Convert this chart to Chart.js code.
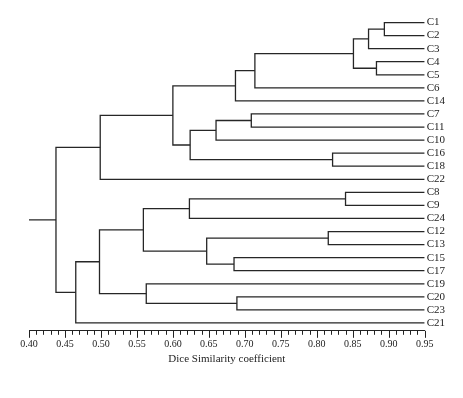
<!DOCTYPE html>
<html>
<head>
<meta charset="utf-8">
<script src="https://cdn.jsdelivr.net/npm/chart.js@4/dist/chart.umd.min.js"></script>
<style>
  html, body { margin: 0; padding: 0; background: #fff; }
  #wrap { width: 463px; height: 398px; }
</style>
</head>
<body>
<div id="wrap"><canvas id="dendro"></canvas></div>
<script>
// leaf order, top to bottom
var leaves = ['C1','C2','C3','C4','C5','C6','C14','C7','C11','C10','C16','C18','C22',
              'C8','C9','C24','C12','C13','C15','C17','C19','C20','C23','C21'];

// merges: ids < 24 are leaves, 24+i is merge i
var mergeA      = [0, 24, 3, 25, 27, 28, 7, 30, 10, 31, 29, 34, 13, 36, 16, 18, 38, 37, 21, 20, 41, 44, 35];
var mergeB      = [1, 2, 4, 26, 5, 6, 8, 9, 11, 32, 33, 12, 14, 15, 17, 19, 39, 40, 22, 42, 43, 23, 45];
var mergeHeight = [0.894, 0.872, 0.883, 0.851, 0.714, 0.687, 0.709, 0.660, 0.822, 0.624, 0.600, 0.499,
                   0.840, 0.623, 0.816, 0.685, 0.647, 0.559, 0.689, 0.563, 0.498, 0.465, 0.4375];

var leafHeight = 0.95;
var axisMin = 0.40;

var nodeY = leaves.map(function (_, i) { return i; });
var nodeH = leaves.map(function () { return leafHeight; });
var datasets = [];

for (var i = 0; i < mergeHeight.length; i++) {
    var a = mergeA[i], b = mergeB[i], h = mergeHeight[i];
    datasets.push({
        data: [
            {x: nodeH[a], y: nodeY[a]},
            {x: h, y: nodeY[a]},
            {x: h, y: nodeY[b]},
            {x: nodeH[b], y: nodeY[b]}
        ]
    });
    nodeY.push((nodeY[a] + nodeY[b]) / 2);
    nodeH.push(h);
}
// root stub
var root = nodeY.length - 1;
datasets.push({data: [{x: axisMin, y: nodeY[root]}, {x: nodeH[root], y: nodeY[root]}]});

datasets.forEach(function (d) {
    d.showLine = true;
    d.pointRadius = 0;
    d.borderColor = '#262626';
    d.borderWidth = 1.3;
    d.tension = 0;
});

// small tick marks hanging under the x axis
var tickMarks = {
    id: 'tickMarks',
    afterDraw: function (chart) {
        var s = chart.scales.x, ctx = chart.ctx;
        ctx.save();
        ctx.strokeStyle = '#222';
        ctx.lineWidth = 1;
        s.ticks.forEach(function (t) {
            var major = Math.round(t.value * 100) % 5 === 0;
            var x = Math.round(s.getPixelForValue(t.value)) + 0.5;
            ctx.beginPath();
            ctx.moveTo(x, s.top);
            ctx.lineTo(x, s.top + (major ? 7 : 4));
            ctx.stroke();
        });
        ctx.restore();
    }
};

var serif = 'Liberation Serif, Times New Roman, serif';

new Chart(document.getElementById('dendro'), {
    type: 'scatter',
    data: {datasets: datasets},
    plugins: [tickMarks],
    options: {
        animation: false,
        responsive: true,
        maintainAspectRatio: false,
        layout: {padding: {left: 29, right: 16, top: 16, bottom: 32}},
        plugins: {legend: {display: false}, tooltip: {enabled: false}},
        scales: {
            x: {
                type: 'linear',
                min: 0.40,
                max: 0.95,
                grid: {display: true, drawOnChartArea: false, drawTicks: true, tickLength: 7, tickColor: 'rgba(0,0,0,0)'},
                border: {display: true, color: '#222', width: 1},
                ticks: {
                    stepSize: 0.01,
                    autoSkip: false,
                    maxRotation: 0,
                    padding: 1,
                    color: '#222',
                    font: {family: serif, size: 10},
                    callback: function (v) {
                        return Math.round(v * 100) % 5 === 0 ? v.toFixed(2) : '';
                    }
                },
                title: {
                    display: true,
                    text: 'Dice Similarity coefficient',
                    color: '#222',
                    font: {family: serif, size: 11},
                    padding: {top: 1, bottom: 0}
                }
            },
            y: {
                type: 'linear',
                position: 'right',
                reverse: true,
                min: -0.5,
                max: 23.6,
                grid: {display: false, drawTicks: false},
                border: {display: false},
                afterBuildTicks: function (s) {
                    s.ticks = leaves.map(function (_, i) { return {value: i}; });
                },
                ticks: {
                    autoSkip: false,
                    padding: 2,
                    color: '#222',
                    font: {family: serif, size: 11},
                    callback: function (v) { return leaves[v]; }
                }
            }
        }
    }
});
</script>
</body>
</html>
